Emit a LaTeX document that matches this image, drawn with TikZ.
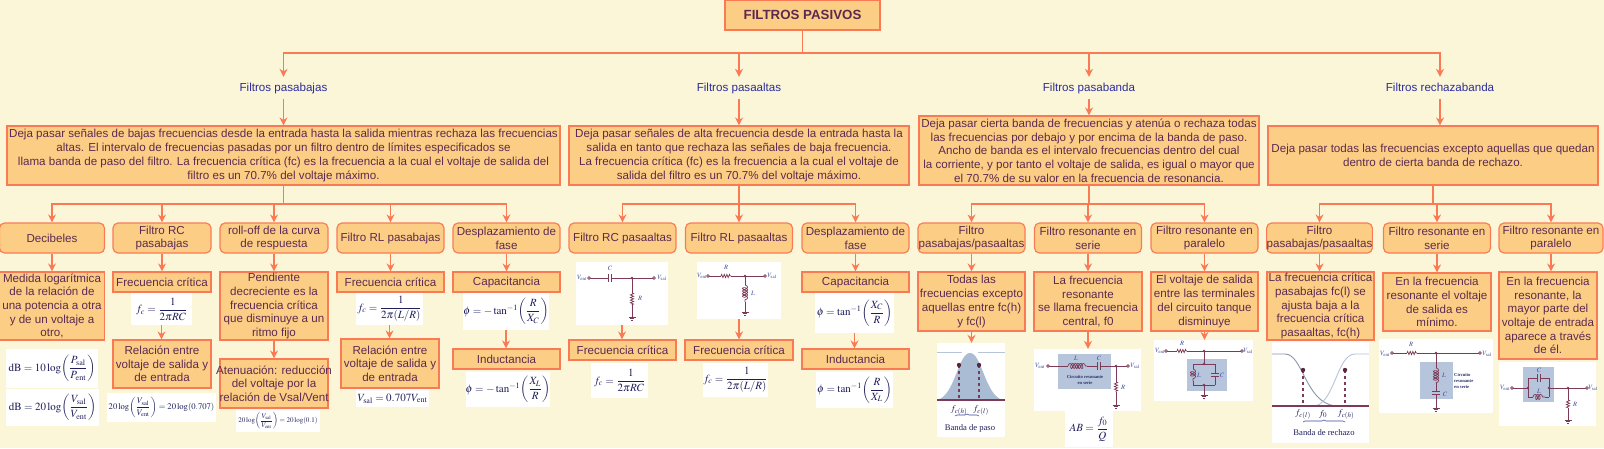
\documentclass[tikz,border=0pt]{standalone}
\usepackage{amsmath}
\usepackage{mathptmx}
\usepackage[no-math]{fontspec}
\setmainfont{Liberation Sans}
\newfontfamily\plotserif{Liberation Serif}
\usetikzlibrary{arrows.meta,decorations.pathmorphing,decorations.pathreplacing}
\begin{document}
\begin{tikzpicture}[x=1pt,y=-1pt,
  linkline/.style={draw=edgecol,line width=1.15pt},
  arrowline/.style={linkline,-{Stealth[length=8pt,width=8pt]}},
  toplabel/.style={text=labelcol,font=\fontsize{11.6}{14}\selectfont,minimum width=90pt,minimum height=22pt,inner sep=0pt,text height=9pt,text depth=2.5pt},
  textbox/.style={draw=edgecol,fill=boxcol,line width=1.15pt,text=inkcol,align=center,inner sep=0pt,font=\fontsize{11.6}{13.7}\selectfont},
  headbox/.style={textbox,rounded corners=5pt,minimum width=107pt,minimum height=30pt},
  whitebox/.style={fill=white,inner sep=0pt,text=eqcol,font=\fontsize{11}{13}\selectfont\boldmath},
  wire/.style={draw=wirecol,line width=.7pt},
  res/.style={wire,decorate,decoration={zigzag,amplitude=1.6pt,segment length=2.6pt}},
  coilv/.style={wire,decorate,decoration={coil,aspect=.6,amplitude=2.6pt,segment length=2.6pt}},
  tag/.style={text=tagcol,inner sep=0pt,font=\fontsize{6.5}{7}\selectfont\boldmath},
  smalltag/.style={text=tagcol!70!black,inner sep=0pt,align=center,font=\fontsize{4.6}{6}\selectfont\plotserif\bfseries},
  plotlabel/.style={text=eqcol,inner sep=0pt,font=\fontsize{9}{10}\selectfont\boldmath},
  plotname/.style={text=eqcol,inner sep=0pt,font=\fontsize{8.6}{10}\selectfont\plotserif},
  gnd/.pic={\draw[wire] (-3.5,0) -- (3.5,0) (-2.3,1.6) -- (2.3,1.6) (-1.1,3.2) -- (1.1,3.2);},
  caph/.pic={\draw[wire] (-1.4,-4) -- (-1.4,4) (1.4,-4) -- (1.4,4);},
  capv/.pic={\draw[wire] (-4,-1.4) -- (4,-1.4) (-4,1.4) -- (4,1.4);}]
\definecolor{bgcol}{HTML}{FCF6D9}
\definecolor{boxcol}{HTML}{FCCE85}
\definecolor{edgecol}{HTML}{F97A55}
\definecolor{inkcol}{HTML}{5C2A50}
\definecolor{labelcol}{HTML}{2C2C9C}
\definecolor{eqcol}{HTML}{1E1E5A}
\definecolor{wirecol}{HTML}{7C3A56}
\definecolor{tagcol}{HTML}{3A4A9A}
\definecolor{shadecol}{HTML}{B6C4DC}
\definecolor{bellcol}{HTML}{AABBD4}
\fill[bgcol] (0,0) rectangle (1604,448);
\useasboundingbox (0,0) rectangle (1604,448);
\coordinate (busroot) at (0,53);
\coordinate (busa) at (0,204);
\node[textbox,minimum width=155pt,minimum height=30pt,font=\fontsize{13.3}{15}\selectfont\bfseries] (root) at (802.5,15) {FILTROS PASIVOS};
\node[toplabel] (bajas) at (283.5,88) {Filtros pasabajas};
\node[toplabel] (altas) at (739,88) {Filtros pasaaltas};
\node[toplabel] (banda) at (1089,88) {Filtros pasabanda};
\node[toplabel] (rechazo) at (1440,88) {Filtros rechazabanda};
\node[textbox,minimum width=553pt,minimum height=59pt] (bajasdesc) at (283.5,155.5) {Deja pasar señales de bajas frecuencias desde la entrada hasta la salida mientras rechaza las frecuencias\\altas. El intervalo de frecuencias pasadas por un filtro dentro de límites especificados se\\llama banda de paso del filtro. La frecuencia crítica (fc) es la frecuencia a la cual el voltaje de salida del\\filtro es un 70.7\% del voltaje máximo.};
\node[textbox,minimum width=340pt,minimum height=59pt] (altasdesc) at (739,155.5) {Deja pasar señales de alta frecuencia desde la entrada hasta la\\salida en tanto que rechaza las señales de baja frecuencia.\\La frecuencia crítica (fc) es la frecuencia a la cual el voltaje de\\salida del filtro es un 70.7\% del voltaje máximo.};
\node[textbox,minimum width=340pt,minimum height=69pt] (bandadesc) at (1089,150.5) {Deja pasar cierta banda de frecuencias y atenúa o rechaza todas\\las frecuencias por debajo y por encima de la banda de paso.\\Ancho de banda es el intervalo frecuencias dentro del cual\\la corriente, y por tanto el voltaje de salida, es igual o mayor que\\el 70.7\% de su valor en la frecuencia de resonancia.};
\node[textbox,minimum width=330pt,minimum height=59pt] (rechazodesc) at (1433,155.5) {Deja pasar todas las frecuencias excepto aquellas que quedan\\dentro de cierta banda de rechazo.};
\node[headbox,minimum width=105pt] (decibel) at (52,238) {Decibeles};
\node[headbox,minimum width=98pt] (rcbajas) at (162,238) {Filtro RC\\pasabajas};
\node[headbox,minimum width=108pt] (rolloff) at (274,238) {roll-off de la curva\\de respuesta};
\node[headbox] (rlbajas) at (390.5,238) {Filtro RL pasabajas};
\node[headbox] (fasebajas) at (506.5,238) {Desplazamiento de\\fase};
\node[headbox] (rcaltas) at (622.5,238) {Filtro RC pasaaltas};
\node[headbox] (rlaltas) at (739,238) {Filtro RL pasaaltas};
\node[headbox] (fasealtas) at (855.5,238) {Desplazamiento de\\fase};
\node[headbox] (mixbanda) at (971.5,238) {Filtro\\pasabajas/pasaaltas};
\node[headbox] (seriebanda) at (1088,238) {Filtro resonante en\\serie};
\node[headbox] (parbanda) at (1204.5,238) {Filtro resonante en\\paralelo};
\node[headbox,minimum width=105pt] (mixrech) at (1319.5,238) {Filtro\\pasabajas/pasaaltas};
\node[headbox] (serierech) at (1437,238) {Filtro resonante en\\serie};
\node[headbox,minimum width=104pt] (parrech) at (1551,238) {Filtro resonante en\\paralelo};
\node[textbox,minimum width=105pt,minimum height=68pt] (medida) at (52,306) {Medida logarítmica\\de la relación de\\una potencia a otra\\y de un voltaje a\\otro,};
\node[textbox,minimum width=98pt,minimum height=20pt] (critrc) at (162,282) {Frecuencia crítica};
\node[whitebox,minimum width=61pt,minimum height=32pt] (eqrc) at (161.5,309) {$f_c=\dfrac{1}{2\pi RC}$};
\node[textbox,minimum width=98pt,minimum height=48pt] (relrc) at (162,364) {Relación entre\\voltaje de salida y\\de entrada};
\node[textbox,minimum width=108pt,minimum height=68pt] (pendiente) at (274,306) {Pendiente\\decreciente es la\\frecuencia crítica\\que disminuye a un\\ritmo fijo};
\node[draw=edgecol,fill=boxcol,line width=1.15pt,minimum width=108pt,minimum height=49pt] (atenua) at (274,383.5) {};
\node[text=inkcol,align=center,inner sep=0pt,font=\fontsize{11.6}{13.7}\selectfont] (atenuatxt) at (274,383.5) {Atenuación: reducción\\del voltaje por la\\relación de Vsal/Vent};
\node[textbox,minimum width=107pt,minimum height=20pt] (critrl) at (390.5,282) {Frecuencia crítica};
\node[whitebox,minimum width=67pt,minimum height=32pt] (eqrl) at (389.5,309) {$f_c=\dfrac{1}{2\pi(L/R)}$};
\node[textbox,minimum width=98pt,minimum height=49pt] (relrl) at (390,363.5) {Relación entre\\voltaje de salida y\\de entrada};
\node[textbox,minimum width=107pt,minimum height=20pt] (capbajas) at (506.5,282) {Capacitancia};
\node[whitebox,minimum width=86pt,minimum height=37pt] (eqcapb) at (506,311.5) {$\phi=-\tan^{-1}\!\left(\dfrac{R}{X_C}\right)$};
\node[textbox,minimum width=107pt,minimum height=20pt] (indbajas) at (506.5,359) {Inductancia};
\node[whitebox,minimum width=82pt,minimum height=35pt] (eqindb) at (508,389.5) {$\phi=-\tan^{-1}\!\left(\dfrac{X_L}{R}\right)$};
\node[whitebox,minimum width=92pt,minimum height=63pt] (cirrc) at (622,293.5) {};
\node[textbox,minimum width=107pt,minimum height=20pt] (critaltrc) at (622.5,350) {Frecuencia crítica};
\node[whitebox,minimum width=57pt,minimum height=35pt] (eqaltrc) at (619.5,380.5) {$f_c=\dfrac{1}{2\pi RC}$};
\node[whitebox,minimum width=84pt,minimum height=57pt] (cirrl) at (739,290.5) {};
\node[textbox,minimum width=108pt,minimum height=20pt] (critaltrl) at (739,350) {Frecuencia crítica};
\node[whitebox,minimum width=65pt,minimum height=34pt] (eqaltrl) at (735.5,380) {$f_c=\dfrac{1}{2\pi(L/R)}$};
\node[textbox,minimum width=107pt,minimum height=20pt] (capaltas) at (855.5,282) {Capacitancia};
\node[whitebox,minimum width=79pt,minimum height=40pt] (eqcapa) at (854.5,313) {$\phi=\tan^{-1}\!\left(\dfrac{X_C}{R}\right)$};
\node[textbox,minimum width=107pt,minimum height=20pt] (indaltas) at (855.5,359) {Inductancia};
\node[whitebox,minimum width=77pt,minimum height=36pt] (eqinda) at (854.5,390) {$\phi=\tan^{-1}\!\left(\dfrac{R}{X_L}\right)$};
\node[textbox,minimum width=107pt,minimum height=59pt] (todas) at (971.5,301.5) {Todas las\\frecuencias excepto\\aquellas entre fc(h)\\y fc(l)};
\node[whitebox,minimum width=68pt,minimum height=94pt] (plotpaso) at (971,390) {};
\node[textbox,minimum width=108pt,minimum height=59pt] (central) at (1088,301.5) {La frecuencia\\resonante\\se llama frecuencia\\central, f0};
\node[whitebox,minimum width=107pt,minimum height=62pt] (cirserie) at (1087.5,380) {};
\node[whitebox,minimum width=48pt,minimum height=36pt] (eqab) at (1089,429) {$AB=\dfrac{f_0}{Q}$};
\node[textbox,minimum width=107pt,minimum height=59pt] (tanque) at (1204.5,301.5) {El voltaje de salida\\entre las terminales\\del circuito tanque\\disminuye};
\node[whitebox,minimum width=99pt,minimum height=61pt] (cirtanque) at (1203.5,370.5) {};
\node[textbox,minimum width=107pt,minimum height=68pt] (fcbaja) at (1320.5,306) {La frecuencia crítica\\pasabajas fc(l) se\\ajusta baja a la\\frecuencia crítica\\pasaaltas, fc(h)};
\node[whitebox,minimum width=97pt,minimum height=101pt] (plotrech) at (1320.5,392.5) {};
\node[textbox,minimum width=108pt,minimum height=58pt] (minimo) at (1437,302) {En la frecuencia\\resonante el voltaje\\de salida es\\mínimo.};
\node[whitebox,minimum width=114pt,minimum height=74pt] (cirrech) at (1436,376) {};
\node[textbox,minimum width=98pt,minimum height=87pt] (mayor) at (1548,315.5) {En la frecuencia\\resonante, la\\mayor parte del\\voltaje de entrada\\aparece a través\\de él.};
\node[whitebox,minimum width=97pt,minimum height=64pt] (cirpar) at (1547.5,394) {};
\node[whitebox,minimum width=92pt,minimum height=39pt] (eqdba) at (52,368.5) {$\mathrm{dB}=10\log\!\left(\dfrac{P_{\mathrm{sal}}}{P_{\mathrm{ent}}}\right)$};
\node[whitebox,minimum width=93pt,minimum height=37pt] (eqdbb) at (52.5,407.5) {$\mathrm{dB}=20\log\!\left(\dfrac{V_{\mathrm{sal}}}{V_{\mathrm{ent}}}\right)$};
\node[whitebox,minimum width=109pt,minimum height=29pt,font=\fontsize{8.6}{10}\selectfont\boldmath] (eqlogrc) at (161.5,407.5) {$20\log\!\left(\dfrac{V_{\mathrm{sal}}}{V_{\mathrm{ent}}}\right)=20\log(0.707)$};
\node[whitebox,minimum width=84pt,minimum height=22pt,font=\fontsize{7}{8}\selectfont\boldmath] (eqlogat) at (278,421) {$20\log\!\left(\dfrac{V_{\mathrm{sal}}}{V_{\mathrm{ent}}}\right)=20\log(0.1)$};
\node[whitebox,minimum width=73pt,minimum height=17pt,font=\fontsize{11}{13}\selectfont\boldmath] (eqvsal) at (392.5,398.5) {$V_{\mathrm{sal}}=0.707V_{\mathrm{ent}}$};
\draw[linkline] (root.south) -- (root.south |- busroot);
\draw[arrowline] (root.south |- busroot) -| (bajas.north);
\draw[arrowline] (root.south |- busroot) -| (altas.north);
\draw[arrowline] (root.south |- busroot) -| (banda.north);
\draw[arrowline] (root.south |- busroot) -| (rechazo.north);
\draw[arrowline] (bajas.south) -- (bajas.south |- bajasdesc.north);
\draw[arrowline] (altas.south) -- (altas.south |- altasdesc.north);
\draw[arrowline] (banda.south) -- (banda.south |- bandadesc.north);
\draw[arrowline] (rechazo.south) -- (rechazo.south |- rechazodesc.north);
\draw[linkline] (bajasdesc.south) -- (bajasdesc.south |- busa);
\draw[linkline] (altasdesc.south) -- (altasdesc.south |- busa);
\draw[linkline] (bandadesc.south) -- (bandadesc.south |- busa);
\draw[linkline] (rechazodesc.south) -- (rechazodesc.south |- busa);
\draw[arrowline] (bajasdesc.south |- busa) -| (decibel.north);
\draw[arrowline] (bajasdesc.south |- busa) -| (rcbajas.north);
\draw[arrowline] (bajasdesc.south |- busa) -| (rolloff.north);
\draw[arrowline] (bajasdesc.south |- busa) -| (rlbajas.north);
\draw[arrowline] (bajasdesc.south |- busa) -| (fasebajas.north);
\draw[arrowline] (altasdesc.south |- busa) -| (rcaltas.north);
\draw[arrowline] (altasdesc.south |- busa) -- (rlaltas.north);
\draw[arrowline] (altasdesc.south |- busa) -| (fasealtas.north);
\draw[arrowline] (bandadesc.south |- busa) -| (mixbanda.north);
\draw[arrowline] (bandadesc.south |- busa) -| (seriebanda.north);
\draw[arrowline] (bandadesc.south |- busa) -| (parbanda.north);
\draw[arrowline] (rechazodesc.south |- busa) -| (mixrech.north);
\draw[arrowline] (rechazodesc.south |- busa) -| (serierech.north);
\draw[arrowline] (rechazodesc.south |- busa) -| (parrech.north);
\draw[arrowline] (decibel.south) -- (medida.north);
\draw[arrowline] (rcbajas.south) -- (critrc.north);
\draw[arrowline] (eqrc.south) -- (eqrc.south |- relrc.north);
\draw[arrowline] (rolloff.south) -- (pendiente.north);
\draw[arrowline] (pendiente.south) -- (atenua.north);
\draw[arrowline] (rlbajas.south) -- (critrl.north);
\draw[arrowline] (eqrl.south) -- (eqrl.south |- relrl.north);
\draw[arrowline] (fasebajas.south) -- (capbajas.north);
\draw[arrowline] (eqcapb.south) -- (eqcapb.south |- indbajas.north);
\draw[arrowline] (cirrc.south) -- (cirrc.south |- critaltrc.north);
\draw[arrowline] (cirrl.south) -- (critaltrl.north);
\draw[arrowline] (fasealtas.south) -- (capaltas.north);
\draw[arrowline] (eqcapa.south) -- (eqcapa.south |- indaltas.north);
\draw[arrowline] (mixbanda.south) -- (todas.north);
\draw[arrowline] (todas.south) -- (todas.south |- plotpaso.north);
\draw[arrowline] (seriebanda.south) -- (central.north);
\draw[arrowline] (central.south) -- (central.south |- cirserie.north);
\draw[arrowline] (parbanda.south) -- (tanque.north);
\draw[arrowline] (tanque.south) -- (tanque.south |- cirtanque.north);
\draw[arrowline] (mixrech.south) -- (mixrech.south |- fcbaja.north);
\draw[arrowline] (serierech.south) -- (minimo.north);
\draw[arrowline] (parrech.south) -- (parrech.south |- mayor.north);
\draw[wire] (589,278) -- (608.6,278) (611.4,278) -- (654,278) (632,278) -- (632,293) (632,305) -- (632,317);
\draw[res] (632,293) -- (632,305);
\pic at (610,278) {caph};
\pic at (632,317) {gnd};
\fill[wirecol] (632,278) circle (1.3pt);
\draw[wire,fill=white] (589,278) circle (1.3pt) (654,278) circle (1.3pt);
\node[tag] (ventrc) at (582,278) {$V_{\mathrm{ent}}$};
\node[tag] (vsalrc) at (662,278) {$V_{\mathrm{sal}}$};
\node[tag] (caprc) at (610,268) {$C$};
\node[tag] (resrc) at (640,298) {$R$};
\draw[wire] (708,276) -- (721,276) (731,276) -- (765,276) (745,276) -- (745,285) (745,302) -- (745,312);
\draw[res] (721,276) -- (731,276);
\draw[coilv] (745,285) -- (745,302);
\pic at (745,312) {gnd};
\fill[wirecol] (745,276) circle (1.3pt);
\draw[wire,fill=white] (708,276) circle (1.3pt) (765,276) circle (1.3pt);
\node[tag] (ventrl) at (702,276) {$V_{\mathrm{ent}}$};
\node[tag] (vsalrl) at (772,276) {$V_{\mathrm{sal}}$};
\node[tag] (resrl) at (726,267) {$R$};
\node[tag] (indrl) at (753,293) {$L$};
\fill[bellcol] (937,400) .. controls (955,396) and (958,353) .. (970,353) .. controls (982,353) and (985,396) .. (1003,400) -- cycle;
\draw[shadecol,line width=.8pt] (937,352) -- (962,352) (978,352) -- (1005,352);
\draw[wirecol,line width=1.3pt] (937,400) -- (1005,400);
\draw[wirecol,line width=1.1pt,dashed] (959,365) -- (959,400) (979,365) -- (979,400);
\fill[wirecol!70!black] (959,365) circle (2.2pt) (979,365) circle (2.2pt);
\node[plotlabel] (fhpaso) at (959,410) {$f_{c(h)}$};
\node[plotlabel] (flpaso) at (981,410) {$f_{c(l)}$};
\draw[tagcol,line width=.6pt,decorate,decoration={brace,mirror,amplitude=2pt}] (979,416) -- (955,416);
\node[plotname] (pasotxt) at (970,428) {Banda de paso};
\fill[shadecol] (1058,354) rectangle (1111,389);
\draw[wire] (1048,366) -- (1068,366) (1087,366) -- (1097.6,366) (1100.4,366) -- (1128,366) (1116,366) -- (1116,382) (1116,392) -- (1116,405);
\draw[coilv] (1068,366) -- (1087,366);
\draw[res] (1116,382) -- (1116,392);
\pic at (1099,366) {caph};
\pic at (1116,405) {gnd};
\fill[wirecol] (1116,366) circle (1.3pt);
\draw[wire,fill=white] (1048,366) circle (1.3pt) (1128,366) circle (1.3pt);
\node[tag] (ventser) at (1040,366) {$V_{\mathrm{ent}}$};
\node[tag] (vsalser) at (1135,366) {$V_{\mathrm{sal}}$};
\node[tag] (indser) at (1076,358) {$L$};
\node[tag] (capser) at (1099,358) {$C$};
\node[tag] (resser) at (1123,387) {$R$};
\node[smalltag] (txtser) at (1085,379.5) {Circuito resonante\\en serie};
\fill[shadecol] (1187,359) rectangle (1227,391);
\draw[wire] (1166,351) -- (1177,351) (1187,351) -- (1242,351) (1204,351) -- (1204,364) (1204,385) -- (1204,395) (1193,364) -- (1215,364) (1193,385) -- (1215,385) (1193,364) -- (1193,369) (1193,381) -- (1193,385) (1215,364) -- (1215,373.6) (1215,376.4) -- (1215,385);
\draw[res] (1177,351) -- (1187,351);
\draw[coilv] (1193,369) -- (1193,381);
\pic at (1215,375) {capv};
\pic at (1204,395) {gnd};
\fill[wirecol] (1204,351) circle (1.3pt) (1204,364) circle (1.3pt) (1204,385) circle (1.3pt);
\draw[wire,fill=white] (1166,351) circle (1.3pt) (1242,351) circle (1.3pt);
\node[tag] (venttan) at (1160,351) {$V_{\mathrm{ent}}$};
\node[tag] (vsaltan) at (1248,351) {$V_{\mathrm{sal}}$};
\node[tag] (restan) at (1182,343) {$R$};
\node[tag] (indtan) at (1199,375) {$L$};
\node[tag] (captan) at (1222,375) {$C$};
\draw[bellcol!80!black,line width=.9pt] (1272,354) -- (1285,354) .. controls (1303,354) and (1305,402) .. (1335,406);
\draw[shadecol,line width=.9pt] (1315,406) .. controls (1335,402) and (1337,354) .. (1355,354) -- (1369,354);
\draw[wirecol,line width=1.3pt] (1272,406) -- (1369,406);
\draw[wirecol,line width=1.1pt,dashed] (1303,370) -- (1303,406) (1345,370) -- (1345,406);
\fill[wirecol!70!black] (1303,370) circle (2.2pt) (1345,370) circle (2.2pt);
\node[plotlabel] (flrech) at (1303,414) {$f_{c(l)}$};
\node[plotlabel] (fcrech) at (1323,414) {$f_0$};
\node[plotlabel] (fhrech) at (1346,414) {$f_{c(h)}$};
\draw[tagcol,line width=.6pt,decorate,decoration={brace,mirror,amplitude=2pt}] (1345,422) -- (1303,422);
\node[plotname] (rechtxt) at (1324,433) {Banda de rechazo};
\fill[shadecol] (1420,362) rectangle (1453,399);
\draw[wire] (1392,353) -- (1407,353) (1417,353) -- (1480,353) (1436,353) -- (1436,368) (1436,383) -- (1436,391.6) (1436,394.4) -- (1436,408);
\draw[res] (1407,353) -- (1417,353);
\draw[coilv] (1436,368) -- (1436,383);
\pic at (1436,393) {capv};
\pic at (1436,408) {gnd};
\fill[wirecol] (1436,353) circle (1.3pt);
\draw[wire,fill=white] (1392,353) circle (1.3pt) (1480,353) circle (1.3pt);
\node[tag] (ventrech) at (1385,354) {$V_{\mathrm{ent}}$};
\node[tag] (vsalrech) at (1487,354) {$V_{\mathrm{sal}}$};
\node[tag] (resrech) at (1411,344) {$R$};
\node[tag] (indrech) at (1444,375) {$L$};
\node[tag] (caprech) at (1445,394) {$C$};
\node[smalltag,anchor=west,align=left] (txtrech) at (1454,381) {Circuito\\resonante\\en serie};
\fill[shadecol] (1523,367) rectangle (1554,402);
\draw[wire] (1512,388) -- (1528,388) (1549,388) -- (1587,388) (1528,378) -- (1528,397) (1549,378) -- (1549,397) (1528,378) -- (1537.6,378) (1540.4,378) -- (1549,378) (1528,397) -- (1533,397) (1545,397) -- (1549,397) (1568,388) -- (1568,400) (1568,408) -- (1568,420);
\draw[coilv] (1533,397) -- (1545,397);
\draw[res] (1568,400) -- (1568,408);
\pic at (1539,378) {caph};
\pic at (1568,420) {gnd};
\fill[wirecol] (1528,388) circle (1.3pt) (1549,388) circle (1.3pt) (1568,388) circle (1.3pt);
\draw[wire,fill=white] (1512,388) circle (1.3pt) (1587,388) circle (1.3pt);
\node[tag] (ventpar) at (1505,388) {$V_{\mathrm{ent}}$};
\node[tag] (vsalpar) at (1593,388) {$V_{\mathrm{sal}}$};
\node[tag] (cappar) at (1539,370) {$C$};
\node[tag] (indpar) at (1539,391) {$L$};
\node[tag] (respar) at (1575,404) {$R$};
\end{tikzpicture}
\end{document}
